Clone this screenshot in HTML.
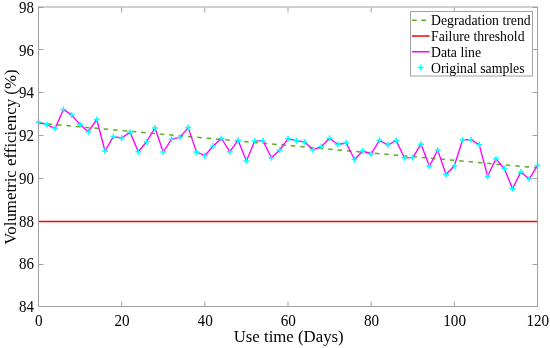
<!DOCTYPE html>
<html><head><meta charset="utf-8"><title>Volumetric efficiency plot</title>
<style>html,body{margin:0;padding:0;background:#fff;width:550px;height:348px;overflow:hidden}</style>
</head><body>
<svg width="550" height="348" viewBox="0 0 550 348" style="display:block"><rect x="0" y="0" width="550" height="348" fill="#fff"/><line x1="38.50" y1="306.5" x2="38.50" y2="301.5" stroke="#a2a2a2" stroke-width="1"/><line x1="38.50" y1="7.5" x2="38.50" y2="12.5" stroke="#a2a2a2" stroke-width="1"/><text transform="translate(38.80 325.7) scale(0.95 1)" x="0" y="0" text-anchor="middle" style="font-family:'Liberation Serif','Times New Roman',serif;font-size:16px" fill="#000">0</text><line x1="121.67" y1="306.5" x2="121.67" y2="301.5" stroke="#a2a2a2" stroke-width="1"/><line x1="121.67" y1="7.5" x2="121.67" y2="12.5" stroke="#a2a2a2" stroke-width="1"/><text transform="translate(121.97 325.7) scale(0.95 1)" x="0" y="0" text-anchor="middle" style="font-family:'Liberation Serif','Times New Roman',serif;font-size:16px" fill="#000">20</text><line x1="204.83" y1="306.5" x2="204.83" y2="301.5" stroke="#a2a2a2" stroke-width="1"/><line x1="204.83" y1="7.5" x2="204.83" y2="12.5" stroke="#a2a2a2" stroke-width="1"/><text transform="translate(205.13 325.7) scale(0.95 1)" x="0" y="0" text-anchor="middle" style="font-family:'Liberation Serif','Times New Roman',serif;font-size:16px" fill="#000">40</text><line x1="288.00" y1="306.5" x2="288.00" y2="301.5" stroke="#a2a2a2" stroke-width="1"/><line x1="288.00" y1="7.5" x2="288.00" y2="12.5" stroke="#a2a2a2" stroke-width="1"/><text transform="translate(288.30 325.7) scale(0.95 1)" x="0" y="0" text-anchor="middle" style="font-family:'Liberation Serif','Times New Roman',serif;font-size:16px" fill="#000">60</text><line x1="371.17" y1="306.5" x2="371.17" y2="301.5" stroke="#a2a2a2" stroke-width="1"/><line x1="371.17" y1="7.5" x2="371.17" y2="12.5" stroke="#a2a2a2" stroke-width="1"/><text transform="translate(371.47 325.7) scale(0.95 1)" x="0" y="0" text-anchor="middle" style="font-family:'Liberation Serif','Times New Roman',serif;font-size:16px" fill="#000">80</text><line x1="454.33" y1="306.5" x2="454.33" y2="301.5" stroke="#a2a2a2" stroke-width="1"/><line x1="454.33" y1="7.5" x2="454.33" y2="12.5" stroke="#a2a2a2" stroke-width="1"/><text transform="translate(454.63 325.7) scale(0.95 1)" x="0" y="0" text-anchor="middle" style="font-family:'Liberation Serif','Times New Roman',serif;font-size:16px" fill="#000">100</text><line x1="537.50" y1="306.5" x2="537.50" y2="301.5" stroke="#a2a2a2" stroke-width="1"/><line x1="537.50" y1="7.5" x2="537.50" y2="12.5" stroke="#a2a2a2" stroke-width="1"/><text transform="translate(537.80 325.7) scale(0.95 1)" x="0" y="0" text-anchor="middle" style="font-family:'Liberation Serif','Times New Roman',serif;font-size:16px" fill="#000">120</text><line x1="38.5" y1="306.50" x2="43.5" y2="306.50" stroke="#a2a2a2" stroke-width="1"/><line x1="537.5" y1="306.50" x2="532.5" y2="306.50" stroke="#a2a2a2" stroke-width="1"/><text transform="translate(34 312.05) scale(0.935 1)" x="0" y="0" text-anchor="end" style="font-family:'Liberation Serif','Times New Roman',serif;font-size:16px" fill="#000">84</text><line x1="38.5" y1="264.50" x2="43.5" y2="264.50" stroke="#a2a2a2" stroke-width="1"/><line x1="537.5" y1="264.50" x2="532.5" y2="264.50" stroke="#a2a2a2" stroke-width="1"/><text transform="translate(34 269.34) scale(0.935 1)" x="0" y="0" text-anchor="end" style="font-family:'Liberation Serif','Times New Roman',serif;font-size:16px" fill="#000">86</text><line x1="38.5" y1="221.50" x2="43.5" y2="221.50" stroke="#a2a2a2" stroke-width="1"/><line x1="537.5" y1="221.50" x2="532.5" y2="221.50" stroke="#a2a2a2" stroke-width="1"/><text transform="translate(34 226.62) scale(0.935 1)" x="0" y="0" text-anchor="end" style="font-family:'Liberation Serif','Times New Roman',serif;font-size:16px" fill="#000">88</text><line x1="38.5" y1="178.50" x2="43.5" y2="178.50" stroke="#a2a2a2" stroke-width="1"/><line x1="537.5" y1="178.50" x2="532.5" y2="178.50" stroke="#a2a2a2" stroke-width="1"/><text transform="translate(34 183.91) scale(0.935 1)" x="0" y="0" text-anchor="end" style="font-family:'Liberation Serif','Times New Roman',serif;font-size:16px" fill="#000">90</text><line x1="38.5" y1="135.50" x2="43.5" y2="135.50" stroke="#a2a2a2" stroke-width="1"/><line x1="537.5" y1="135.50" x2="532.5" y2="135.50" stroke="#a2a2a2" stroke-width="1"/><text transform="translate(34 141.19) scale(0.935 1)" x="0" y="0" text-anchor="end" style="font-family:'Liberation Serif','Times New Roman',serif;font-size:16px" fill="#000">92</text><line x1="38.5" y1="92.50" x2="43.5" y2="92.50" stroke="#a2a2a2" stroke-width="1"/><line x1="537.5" y1="92.50" x2="532.5" y2="92.50" stroke="#a2a2a2" stroke-width="1"/><text transform="translate(34 98.48) scale(0.935 1)" x="0" y="0" text-anchor="end" style="font-family:'Liberation Serif','Times New Roman',serif;font-size:16px" fill="#000">94</text><line x1="38.5" y1="49.50" x2="43.5" y2="49.50" stroke="#a2a2a2" stroke-width="1"/><line x1="537.5" y1="49.50" x2="532.5" y2="49.50" stroke="#a2a2a2" stroke-width="1"/><text transform="translate(34 55.76) scale(0.935 1)" x="0" y="0" text-anchor="end" style="font-family:'Liberation Serif','Times New Roman',serif;font-size:16px" fill="#000">96</text><line x1="38.5" y1="7.50" x2="43.5" y2="7.50" stroke="#a2a2a2" stroke-width="1"/><line x1="537.5" y1="7.50" x2="532.5" y2="7.50" stroke="#a2a2a2" stroke-width="1"/><text transform="translate(34 13.05) scale(0.935 1)" x="0" y="0" text-anchor="end" style="font-family:'Liberation Serif','Times New Roman',serif;font-size:16px" fill="#000">98</text><line x1="38.5" y1="123.1" x2="537.5" y2="167.8" stroke="#5DAE1E" stroke-width="1.5" stroke-dasharray="4.5 4.89" stroke-dashoffset="0.2"/><line x1="38.5" y1="221.4" x2="537.5" y2="221.4" stroke="#FF0000" stroke-width="1.5"/><polyline fill="none" stroke="#FF00FF" stroke-width="1.35" stroke-linejoin="round" points="38.50,122.20 46.82,124.60 55.13,128.30 63.45,109.40 71.77,115.10 80.08,124.70 88.40,131.70 96.72,119.50 105.03,151.00 113.35,136.60 121.67,138.00 129.98,132.10 138.30,151.70 146.62,141.70 154.93,128.00 163.25,152.00 171.57,139.20 179.88,137.40 188.20,127.60 196.52,152.00 204.83,155.70 213.15,146.00 221.47,138.50 229.78,151.70 238.10,140.30 246.42,161.00 254.73,140.90 263.05,140.90 271.37,157.70 279.68,150.00 288.00,138.80 296.32,140.70 304.63,141.90 312.95,149.70 321.27,146.80 329.58,138.20 337.90,144.50 346.22,143.00 354.53,159.50 362.85,151.00 371.17,153.90 379.48,140.30 387.80,145.00 396.12,140.50 404.43,157.80 412.75,157.60 421.07,144.20 429.38,166.30 437.70,150.10 446.02,174.50 454.33,165.80 462.65,139.70 470.97,139.70 479.28,144.80 487.60,176.20 495.92,158.85 504.23,168.50 512.55,188.70 520.87,171.90 529.18,179.10 537.50,165.40"/><path d="M35.55 122.20H41.45M38.50 119.25V125.15 M43.87 124.60H49.77M46.82 121.65V127.55 M52.18 128.30H58.08M55.13 125.35V131.25 M60.50 109.40H66.40M63.45 106.45V112.35 M68.82 115.10H74.72M71.77 112.15V118.05 M77.13 124.70H83.03M80.08 121.75V127.65 M85.45 131.70H91.35M88.40 128.75V134.65 M93.77 119.50H99.67M96.72 116.55V122.45 M102.08 151.00H107.98M105.03 148.05V153.95 M110.40 136.60H116.30M113.35 133.65V139.55 M118.72 138.00H124.62M121.67 135.05V140.95 M127.03 132.10H132.93M129.98 129.15V135.05 M135.35 151.70H141.25M138.30 148.75V154.65 M143.67 141.70H149.57M146.62 138.75V144.65 M151.98 128.00H157.88M154.93 125.05V130.95 M160.30 152.00H166.20M163.25 149.05V154.95 M168.62 139.20H174.52M171.57 136.25V142.15 M176.93 137.40H182.83M179.88 134.45V140.35 M185.25 127.60H191.15M188.20 124.65V130.55 M193.57 152.00H199.47M196.52 149.05V154.95 M201.88 155.70H207.78M204.83 152.75V158.65 M210.20 146.00H216.10M213.15 143.05V148.95 M218.52 138.50H224.42M221.47 135.55V141.45 M226.83 151.70H232.73M229.78 148.75V154.65 M235.15 140.30H241.05M238.10 137.35V143.25 M243.47 161.00H249.37M246.42 158.05V163.95 M251.78 140.90H257.68M254.73 137.95V143.85 M260.10 140.90H266.00M263.05 137.95V143.85 M268.42 157.70H274.32M271.37 154.75V160.65 M276.73 150.00H282.63M279.68 147.05V152.95 M285.05 138.80H290.95M288.00 135.85V141.75 M293.37 140.70H299.27M296.32 137.75V143.65 M301.68 141.90H307.58M304.63 138.95V144.85 M310.00 149.70H315.90M312.95 146.75V152.65 M318.32 146.80H324.22M321.27 143.85V149.75 M326.63 138.20H332.53M329.58 135.25V141.15 M334.95 144.50H340.85M337.90 141.55V147.45 M343.27 143.00H349.17M346.22 140.05V145.95 M351.58 159.50H357.48M354.53 156.55V162.45 M359.90 151.00H365.80M362.85 148.05V153.95 M368.22 153.90H374.12M371.17 150.95V156.85 M376.53 140.30H382.43M379.48 137.35V143.25 M384.85 145.00H390.75M387.80 142.05V147.95 M393.17 140.50H399.07M396.12 137.55V143.45 M401.48 157.80H407.38M404.43 154.85V160.75 M409.80 157.60H415.70M412.75 154.65V160.55 M418.12 144.20H424.02M421.07 141.25V147.15 M426.43 166.30H432.33M429.38 163.35V169.25 M434.75 150.10H440.65M437.70 147.15V153.05 M443.07 174.50H448.97M446.02 171.55V177.45 M451.38 165.80H457.28M454.33 162.85V168.75 M459.70 139.70H465.60M462.65 136.75V142.65 M468.02 139.70H473.92M470.97 136.75V142.65 M476.33 144.80H482.23M479.28 141.85V147.75 M484.65 176.20H490.55M487.60 173.25V179.15 M492.97 158.85H498.87M495.92 155.90V161.80 M501.28 168.50H507.18M504.23 165.55V171.45 M509.60 188.70H515.50M512.55 185.75V191.65 M517.92 171.90H523.82M520.87 168.95V174.85 M526.23 179.10H532.13M529.18 176.15V182.05 M534.55 165.40H540.45M537.50 162.45V168.35" stroke="#00FFFF" stroke-width="1.5" fill="none"/><path d="M38.5 7.0H537.5M38.5 306.5H537.5M38.5 6.5V306.5M537.5 6.5V306.5" fill="none" stroke="#a2a2a2" stroke-width="1"/><rect x="410.5" y="11.5" width="122.0" height="64.5" fill="#fff" stroke="#a2a2a2" stroke-width="1"/><line x1="412" y1="20.3" x2="429" y2="20.3" stroke="#5DAE1E" stroke-width="1.5" stroke-dasharray="4.7 4.5"/><line x1="412" y1="36.0" x2="429.5" y2="36.0" stroke="#FF0000" stroke-width="1.5"/><line x1="412" y1="51.75" x2="429.5" y2="51.75" stroke="#FF00FF" stroke-width="1.5"/><path d="M417.75 67.40H423.65M420.70 64.45V70.35" stroke="#00FFFF" stroke-width="1.5" fill="none"/><text x="431.0" y="25.40" style="font-family:'Liberation Serif','Times New Roman',serif;font-size:13.75px" fill="#000">Degradation trend</text><text x="431.0" y="41.10" style="font-family:'Liberation Serif','Times New Roman',serif;font-size:13.75px" fill="#000">Failure threshold</text><text x="431.0" y="56.85" style="font-family:'Liberation Serif','Times New Roman',serif;font-size:13.75px" fill="#000">Data line</text><text x="431.0" y="72.50" style="font-family:'Liberation Serif','Times New Roman',serif;font-size:13.75px" fill="#000">Original samples</text><text x="288.7" y="341.6" text-anchor="middle" style="font-family:'Liberation Serif','Times New Roman',serif;font-size:16.8px" fill="#000">Use time (Days)</text><text transform="translate(16.3 157.1) rotate(-90)" x="0" y="0" text-anchor="middle" style="font-family:'Liberation Serif','Times New Roman',serif;font-size:16.85px" fill="#000">Volumetric efficiency (%)</text></svg>
</body></html>
